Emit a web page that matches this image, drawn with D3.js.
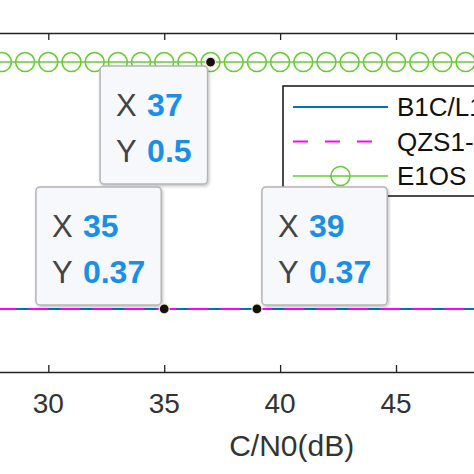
<!DOCTYPE html>
<html>
<head>
<meta charset="utf-8">
<script src="https://cdn.jsdelivr.net/npm/d3@7"></script>
<style>
  html, body { margin: 0; padding: 0; background: #fff; overflow: hidden; }
  text { font-family: "Liberation Sans", Arial, sans-serif; }
</style>
</head>
<body>
<svg id="chart" width="474" height="474"></svg>
<script>
// C/N0 grid (dB) and the three signal curves
const cn0 = [25, 26, 27, 28, 29, 30, 31, 32, 33, 34, 35, 36, 37, 38, 39, 40,
             41, 42, 43, 44, 45, 46, 47, 48, 49, 50, 51, 52, 53, 54, 55];
const b1c = [0.37, 0.37, 0.37, 0.37, 0.37, 0.37, 0.37, 0.37, 0.37, 0.37, 0.37, 0.37, 0.37, 0.37, 0.37, 0.37,
             0.37, 0.37, 0.37, 0.37, 0.37, 0.37, 0.37, 0.37, 0.37, 0.37, 0.37, 0.37, 0.37, 0.37, 0.37];
const qzs = [0.37, 0.37, 0.37, 0.37, 0.37, 0.37, 0.37, 0.37, 0.37, 0.37, 0.37, 0.37, 0.37, 0.37, 0.37, 0.37,
             0.37, 0.37, 0.37, 0.37, 0.37, 0.37, 0.37, 0.37, 0.37, 0.37, 0.37, 0.37, 0.37, 0.37, 0.37];
const e1os = [0.5, 0.5, 0.5, 0.5, 0.5, 0.5, 0.5, 0.5, 0.5, 0.5, 0.5, 0.5, 0.5, 0.5, 0.5, 0.5,
              0.5, 0.5, 0.5, 0.5, 0.5, 0.5, 0.5, 0.5, 0.5, 0.5, 0.5, 0.5, 0.5, 0.5, 0.5];
const seriesNames = ['B1C/L1C', 'QZS1-L1C', 'E1OS'];
const xTicks = [25, 30, 35, 40, 45, 50, 55];
const xTickLabels = [30, 35, 40, 45]; // the ones inside the crop
const xLabel = 'C/N0(dB)';
// data tips: [x, y, series index]
const tips = [[37, 0.5, 2], [35, 0.37, 0], [39, 0.37, 0]];

const svg = d3.select('#chart');

// the figure is a crop, axes run past the edges
const x = d3.scaleLinear().domain([25, 56]).range([-67.6, 651]);
const y = d3.scaleLinear().domain([0.3368, 0.5153]).range([372, 33]);

const colors = ['#0072bd', '#ff00ff', '#66cc33'];
const rows = cn0.map((c, i) => ({ c, v: [b1c[i], qzs[i], e1os[i]] }));

// axes (box top and bottom)
svg.append('g')
  .attr('transform', `translate(0,${y.range()[1]})`)
  .call(d3.axisBottom(x).tickValues(xTicks).tickSize(7).tickFormat(''))
  .call(g => g.select('.domain').attr('stroke', '#222').attr('stroke-width', 1.5))
  .call(g => g.selectAll('.tick line').attr('stroke', '#222').attr('stroke-width', 1.3));

svg.append('g')
  .attr('transform', `translate(0,${y.range()[0]})`)
  .call(d3.axisTop(x).tickValues(xTicks).tickSize(7).tickFormat(''))
  .call(g => g.select('.domain').attr('stroke', '#222').attr('stroke-width', 1.5))
  .call(g => g.selectAll('.tick line').attr('stroke', '#222').attr('stroke-width', 1.3));

svg.append('g').selectAll('text')
  .data(xTickLabels)
  .join('text')
  .attr('x', d => x(d))
  .attr('y', 413)
  .attr('text-anchor', 'middle')
  .attr('font-size', 28)
  .attr('fill', '#333')
  .text(d => d);

svg.append('text')
  .attr('x', d3.mean(x.range()))
  .attr('y', 456)
  .attr('text-anchor', 'middle')
  .attr('font-size', 30)
  .attr('fill', '#333')
  .text(xLabel);

// lines
const line = i => d3.line().x(d => x(d.c)).y(d => y(d.v[i]));

svg.append('path').datum(rows)
  .attr('fill', 'none').attr('stroke', colors[0]).attr('stroke-width', 2)
  .attr('d', line(0));
svg.append('path').datum(rows)
  .attr('fill', 'none').attr('stroke', colors[1]).attr('stroke-width', 2)
  .attr('stroke-dasharray', '20,12')
  .attr('d', line(1));
svg.append('path').datum(rows)
  .attr('fill', 'none').attr('stroke', colors[2]).attr('stroke-width', 1.5)
  .attr('d', line(2));
svg.append('g').selectAll('circle')
  .data(rows)
  .join('circle')
  .attr('cx', d => x(d.c))
  .attr('cy', d => y(d.v[2]))
  .attr('r', 9.5)
  .attr('fill', 'none')
  .attr('stroke', colors[2])
  .attr('stroke-width', 1.6);

// legend
const lg = svg.append('g').attr('transform', 'translate(283,86)');
lg.append('rect')
  .attr('width', 260).attr('height', 110)
  .attr('fill', '#fff').attr('stroke', '#111').attr('stroke-width', 1.5);
seriesNames.forEach((name, i) => {
  const ly = 21 + i * 34.5;
  lg.append('line')
    .attr('x1', 10).attr('x2', 105).attr('y1', ly).attr('y2', ly)
    .attr('stroke', colors[i])
    .attr('stroke-width', i === 2 ? 1.5 : 2)
    .attr('stroke-dasharray', i === 1 ? '15,17' : null);
  if (i === 2) {
    lg.append('circle').attr('cx', 57.5).attr('cy', ly).attr('r', 9.5)
      .attr('fill', 'none').attr('stroke', colors[2]).attr('stroke-width', 1.6);
  }
  lg.append('text')
    .attr('x', 114).attr('y', ly + 9)
    .attr('font-size', 26)
    .attr('fill', '#111')
    .text(name);
});

// data tips
const defs = svg.append('defs');
const f = defs.append('filter').attr('id', 'sh').attr('x', '-10%').attr('y', '-10%').attr('width', '130%').attr('height', '130%');
f.append('feDropShadow').attr('dx', 1).attr('dy', 1.5).attr('stdDeviation', 1.5).attr('flood-color', '#000').attr('flood-opacity', 0.25);

tips.forEach(([tx, ty, si]) => {
  const px = x(tx), py = y(ty);
  const g = svg.append('g');
  const box = g.append('rect')
    .attr('rx', 4).attr('ry', 4)
    .attr('fill', '#f7f8fb').attr('stroke', '#b4b4b4').attr('stroke-width', 1.5)
    .attr('filter', 'url(#sh)');
  const t = g.append('g');
  [['X', tx], ['Y', ty]].forEach(([k, v], j) => {
    t.append('text')
      .attr('x', 0).attr('y', 50 + j * 46)
      .attr('font-family', 'Roboto, "Liberation Sans", sans-serif')
      .attr('font-size', 31).attr('fill', '#444')
      .text(k);
    t.append('text')
      .attr('x', 31).attr('y', 50 + j * 46)
      .attr('font-family', 'Roboto, "Liberation Sans", sans-serif')
      .attr('font-size', 32).attr('font-weight', 'bold').attr('fill', '#1a8fe8')
      .text(v);
  });
  const w = t.node().getBBox().width + 32;
  const h = 118;
  let bx, by;
  if (si === 2) { bx = px - 3 - w; by = py + 4; }
  else if (tx < 37) { bx = px - 3 - w; by = py - 4 - h; }
  else { bx = px + 5; by = py - 4 - h; }
  box.attr('x', bx).attr('y', by).attr('width', w).attr('height', h);
  t.attr('transform', `translate(${bx + 16},${by})`);
  svg.append('circle')
    .attr('cx', px).attr('cy', py).attr('r', 5)
    .attr('fill', '#111').attr('stroke', '#f3ecc0').attr('stroke-width', 1.2);
});
</script>
</body>
</html>
